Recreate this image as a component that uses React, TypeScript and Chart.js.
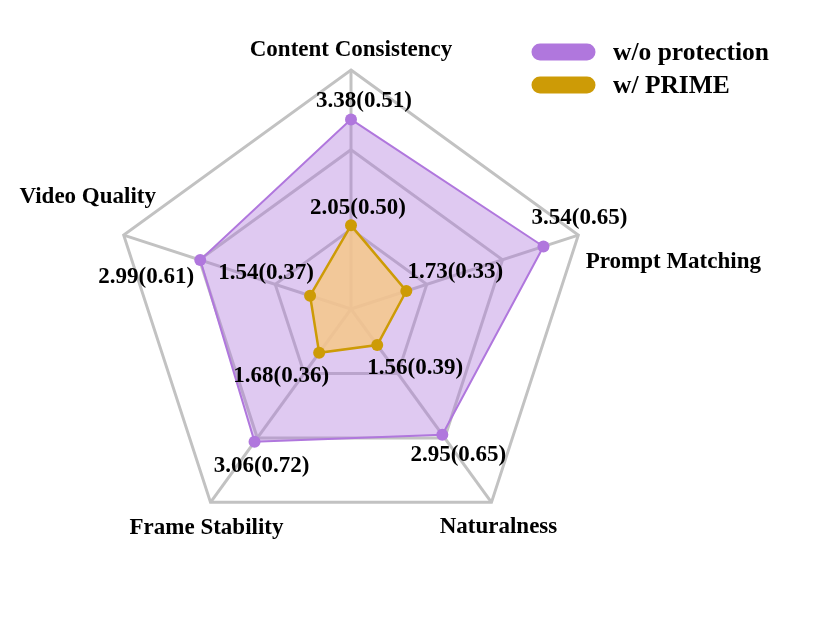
import React, { useEffect, useRef } from "react";
import { Chart, registerables } from "chart.js";

Chart.register(...registerables);

const categories = ["Content Consistency", "Prompt Matching", "Naturalness", "Frame Stability", "Video Quality"];
const seriesNames = ["w/o protection", "w/ PRIME"];
const noProtMean = [3.38, 3.54, 2.95, 3.06, 2.99];
const noProtStd = [0.51, 0.65, 0.65, 0.72, 0.61];
const primeMean = [2.05, 1.73, 1.56, 1.68, 1.54];
const primeStd = [0.5, 0.33, 0.39, 0.36, 0.37];
const radialMin = 1;
const radialMax = 4;

const PURPLE = "#b077dd";
const GOLD = "#cd9b06";
const FONT = "'Liberation Serif', 'Times New Roman', serif";

// label offsets (pixels, relative to anchor points)
const catOffsets = [[0, -20], [95, 27], [7, 25], [-4, 26], [-36, -38]];
const noProtOffsets = [[13, -18], [36, -28], [16, 20], [7, 24], [-54, 17]];
const primeOffsets = [[7, -17], [49, -19], [38, 23], [-38, 23], [-44, -23]];

const textPlugin = {
  id: "customText",
  afterDraw(chart: any) {
    const ctx = chart.ctx;
    const r = chart.scales.r;
    ctx.save();
    ctx.fillStyle = "#000";
    ctx.textAlign = "center";
    ctx.textBaseline = "middle";
    ctx.font = `bold 23px ${FONT}`;
    categories.forEach((c, i) => {
      const p = r.getPointPositionForValue(i, radialMax);
      ctx.fillText(c, p.x + catOffsets[i][0], p.y + catOffsets[i][1]);
    });
    noProtMean.forEach((v, i) => {
      const p = r.getPointPositionForValue(i, v);
      ctx.fillText(`${v.toFixed(2)}(${noProtStd[i].toFixed(2)})`, p.x + noProtOffsets[i][0], p.y + noProtOffsets[i][1]);
    });
    primeMean.forEach((v, i) => {
      const p = r.getPointPositionForValue(i, v);
      ctx.fillText(`${v.toFixed(2)}(${primeStd[i].toFixed(2)})`, p.x + primeOffsets[i][0], p.y + primeOffsets[i][1]);
    });
    // legend
    const colors = [PURPLE, GOLD];
    ctx.font = `bold 25.5px ${FONT}`;
    ctx.textAlign = "left";
    seriesNames.forEach((name, i) => {
      const y = 52 + i * 33;
      ctx.strokeStyle = colors[i];
      ctx.lineWidth = 17;
      ctx.lineCap = "round";
      ctx.beginPath();
      ctx.moveTo(540, y);
      ctx.lineTo(587, y);
      ctx.stroke();
      ctx.fillStyle = "#000";
      ctx.fillText(name, 613, y + 1);
    });
    ctx.restore();
  },
};

export default function App() {
  const ref = useRef<HTMLCanvasElement>(null);
  useEffect(() => {
    if (!ref.current) return;
    const chart = new Chart(ref.current, {
      type: "radar",
      data: {
        labels: categories,
        datasets: [
          {
            label: seriesNames[0],
            data: noProtMean,
            borderColor: PURPLE,
            backgroundColor: "rgba(176,119,221,0.4)",
            borderWidth: 2,
            pointRadius: 6,
            pointBackgroundColor: PURPLE,
            pointBorderWidth: 0,
            fill: true,
            order: 1,
          },
          {
            label: seriesNames[1],
            data: primeMean,
            borderColor: GOLD,
            backgroundColor: "rgba(246,200,138,0.85)",
            borderWidth: 2.5,
            pointRadius: 6,
            pointBackgroundColor: GOLD,
            pointBorderWidth: 0,
            fill: true,
            order: 0,
          },
        ],
      },
      options: {
        responsive: false,
        animation: false,
        devicePixelRatio: 1,
        layout: { padding: { left: 112, top: 70, right: 240, bottom: 88 } },
        plugins: { legend: { display: false }, tooltip: { enabled: false } },
        scales: {
          r: {
            min: radialMin,
            max: radialMax,
            ticks: { display: false, stepSize: 1 },
            pointLabels: { display: false },
            grid: { color: "#c2c2c2", lineWidth: 3 },
            angleLines: { color: "#c2c2c2", lineWidth: 3 },
          },
        },
      },
      plugins: [textPlugin],
    });
    return () => chart.destroy();
  }, []);
  return (
    <div style={{ position: "fixed", left: 0, top: 0, width: 830, height: 636, background: "#fff" }}>
      <canvas ref={ref} width={830} height={636} />
    </div>
  );
}
